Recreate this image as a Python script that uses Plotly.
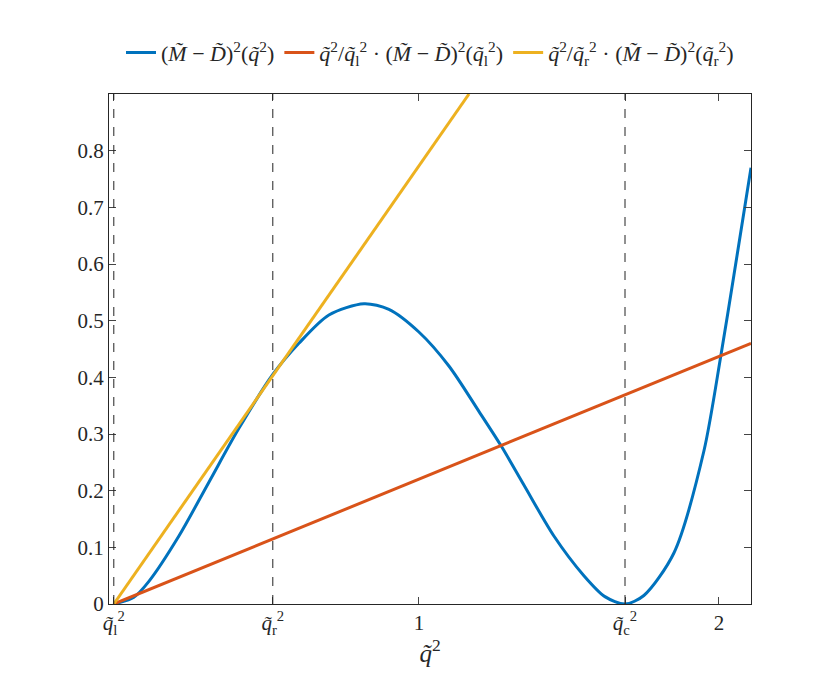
import plotly.graph_objects as go

# characteristic points on the q~^2 axis
q_l = -0.017
q_r = 0.513
q_c = 1.687

# blue curve (M~ - D~)^2(q~^2)
blue_x = [-0.017, 0.05, 0.1, 0.2, 0.3, 0.4, 0.513, 0.6, 0.7, 0.817, 0.9, 1.0, 1.1, 1.2,
          1.273, 1.35, 1.45, 1.55, 1.62, 1.687, 1.75, 1.85, 1.95, 2.007, 2.05, 2.107]
blue_y = [0.0, 0.012, 0.04, 0.12, 0.215, 0.31, 0.405, 0.46, 0.51, 0.53, 0.52, 0.48, 0.42, 0.34,
          0.28, 0.21, 0.12, 0.05, 0.013, 0.0, 0.015, 0.09, 0.27, 0.44, 0.58, 0.77]

# straight lines through (q_l, 0)
orange_x = [q_l, 2.107]
orange_y = [0.0, 0.46]
yellow_x = [q_l, 1.167]
yellow_y = [0.0, 0.9]

fig = go.Figure()
fig.add_trace(go.Scatter(x=blue_x, y=blue_y, mode="lines", line=dict(color="#0072BD", width=3, shape="spline", smoothing=0.8),
                         name="(<i>M̃</i> − <i>D̃</i>)<sup>2</sup>(<i>q̃</i><sup>2</sup>)"))
fig.add_trace(go.Scatter(x=orange_x, y=orange_y, mode="lines", line=dict(color="#D95319", width=3),
                         name="<i>q̃</i><sup>2</sup>/<i>q̃</i><sub>l</sub><sup>2</sup> · (<i>M̃</i> − <i>D̃</i>)<sup>2</sup>(<i>q̃</i><sub>l</sub><sup>2</sup>)"))
fig.add_trace(go.Scatter(x=yellow_x, y=yellow_y, mode="lines", line=dict(color="#EDB120", width=3),
                         name="<i>q̃</i><sup>2</sup>/<i>q̃</i><sub>r</sub><sup>2</sup> · (<i>M̃</i> − <i>D̃</i>)<sup>2</sup>(<i>q̃</i><sub>r</sub><sup>2</sup>)"))

for xv in [q_l, q_r, q_c]:
    fig.add_vline(x=xv, line=dict(color="#222222", width=1, dash="dash"))

fig.update_layout(
    width=830, height=688,
    paper_bgcolor="white", plot_bgcolor="white",
    font=dict(family="Liberation Serif", size=21, color="#262626"),
    margin=dict(l=101, r=87, t=86, b=92),
    showlegend=True,
    legend=dict(orientation="h", x=0.5, xanchor="center", y=1.04, yanchor="bottom",
                font=dict(size=22), itemwidth=30, bgcolor="rgba(0,0,0,0)"),
)
fig.update_xaxes(range=[-0.033, 2.107], tickvals=[q_l, q_r, 1, q_c, 2],
                 ticktext=["<i>q̃</i><sub>l</sub><sup>2</sup>", "<i>q̃</i><sub>r</sub><sup>2</sup>", "1",
                           "<i>q̃</i><sub>c</sub><sup>2</sup>", "2"],
                 ticks="inside", ticklen=7, showgrid=False, zeroline=False, showline=True,
                 linecolor="#262626", mirror="allticks",
                 title=dict(text="<i>q̃</i><sup>2</sup>", standoff=3))
fig.update_yaxes(range=[0, 0.9], tickvals=[0, 0.1, 0.2, 0.3, 0.4, 0.5, 0.6, 0.7, 0.8],
                 ticktext=["0", "0.1", "0.2", "0.3", "0.4", "0.5", "0.6", "0.7", "0.8"],
                 ticks="inside", ticklen=7, showgrid=False, zeroline=False, showline=True,
                 linecolor="#262626", mirror="allticks")

fig.write_html("out.html")
